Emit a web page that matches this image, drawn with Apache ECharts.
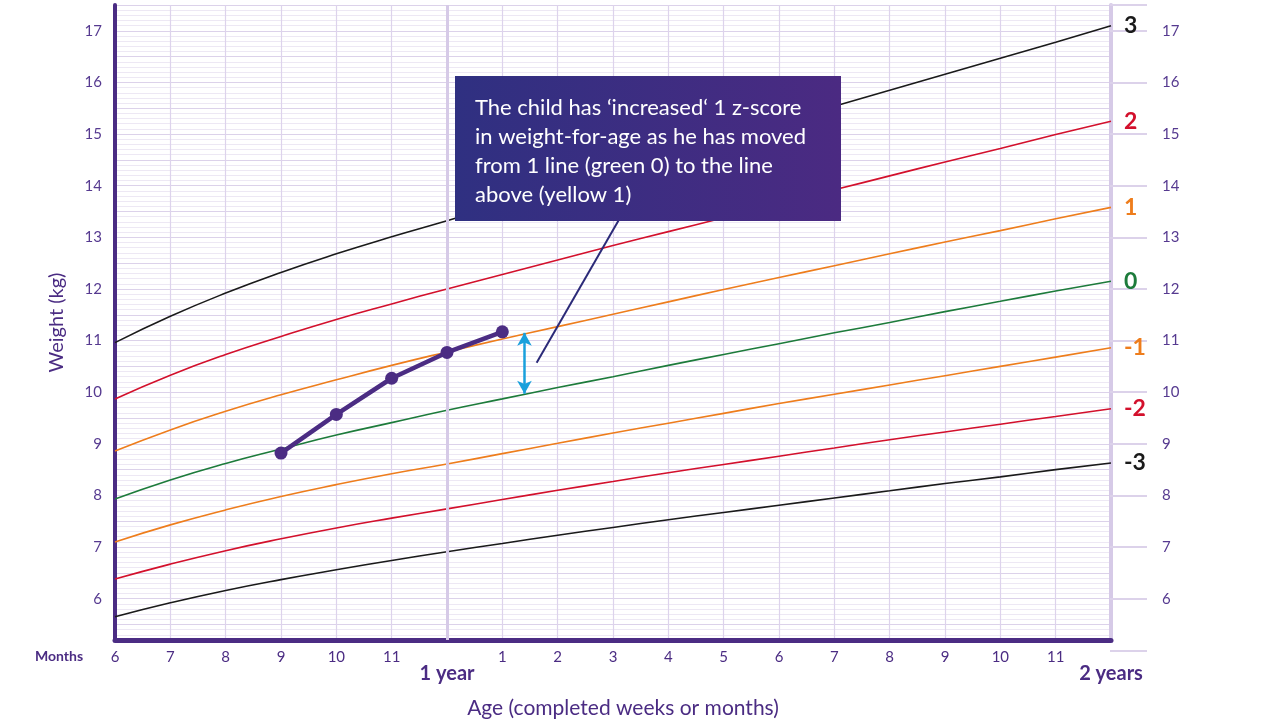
<!DOCTYPE html>
<html>
<head>
<meta charset="utf-8">
<script src="https://cdn.jsdelivr.net/npm/echarts@6/dist/echarts.min.js"></script>
<style>
  html, body { margin: 0; padding: 0; background: #fff; }
  #chart { width: 1280px; height: 720px; }
</style>
</head>
<body>
<div id="chart"></div>
<script>
// months of age, 6 to 24
var months = [6, 7, 8, 9, 10, 11, 12, 13, 14, 15, 16, 17, 18, 19, 20, 21, 22, 23, 24];
// weight-for-age z-score curves (kg)
var zNeg3 = [5.65, 5.92, 6.16, 6.37, 6.56, 6.74, 6.91, 7.07, 7.23, 7.38, 7.53, 7.67, 7.81, 7.95, 8.09, 8.23, 8.36, 8.50, 8.63];
var zNeg2 = [6.38, 6.67, 6.93, 7.16, 7.37, 7.56, 7.74, 7.92, 8.10, 8.27, 8.44, 8.60, 8.76, 8.92, 9.08, 9.23, 9.38, 9.53, 9.68];
var zNeg1 = [7.10, 7.43, 7.72, 7.98, 8.21, 8.42, 8.61, 8.81, 9.01, 9.21, 9.40, 9.59, 9.78, 9.96, 10.14, 10.32, 10.50, 10.68, 10.86];
var z0 = [7.93, 8.30, 8.62, 8.90, 9.17, 9.41, 9.65, 9.87, 10.09, 10.30, 10.52, 10.73, 10.94, 11.15, 11.35, 11.56, 11.76, 11.96, 12.15];
var zPos1 = [8.86, 9.27, 9.63, 9.95, 10.24, 10.52, 10.78, 11.03, 11.27, 11.51, 11.75, 11.99, 12.22, 12.45, 12.68, 12.91, 13.13, 13.36, 13.58];
var zPos2 = [9.87, 10.33, 10.73, 11.08, 11.41, 11.71, 12.00, 12.28, 12.56, 12.84, 13.11, 13.38, 13.65, 13.92, 14.19, 14.46, 14.72, 14.99, 15.25];
var zPos3 = [10.96, 11.47, 11.92, 12.32, 12.68, 13.01, 13.32, 13.64, 13.96, 14.28, 14.60, 14.92, 15.23, 15.54, 15.85, 16.16, 16.47, 16.78, 17.10];
// the child's measurements
var childMonths = [9, 10, 11, 12, 13];
var childWeights = [8.82, 9.57, 10.27, 10.77, 11.17];
// the double arrow showing one z-score step (month, top kg, bottom kg)
var arrowMonth = 13.4;
var arrowTop = 11.15;
var arrowBottom = 9.97;
// callout pointer (from near the arrow up to the box)
var pointerFrom = [13.62, 10.57];
var pointerTo = [15.3, 13.7];
var calloutText = "The child has \u2018increased\u2018 1 z-score\nin weight-for-age as he has moved\nfrom 1 line (green 0) to the line\nabove (yellow 1)";

var PURPLE = "#4b2c83";
var LAVENDER = "#ddd3ec";
var FONT = "Lato";

function pairs(xs, ys) {
	return xs.map(function(x, i) { return [x, ys[i]]; });
}
function isWhole(v) {
	return Math.abs(v - Math.round(v)) < 1e-6;
}

var chart = echarts.init(document.getElementById("chart"));

var curves = [
	{ name: "-3", data: zNeg3, color: "#1a1a1a" },
	{ name: "-2", data: zNeg2, color: "#d3102c" },
	{ name: "-1", data: zNeg1, color: "#ee7d1c" },
	{ name: "0", data: z0, color: "#1d7b3b" },
	{ name: "1", data: zPos1, color: "#ee7d1c" },
	{ name: "2", data: zPos2, color: "#d3102c" },
	{ name: "3", data: zPos3, color: "#1a1a1a" },
];

var series = [
	{
		// 1 year guide line
		name: "year",
		type: "line",
		data: [],
		z: 1,
		silent: true,
		markLine: {
			silent: true,
			symbol: "none",
			label: { show: false },
			lineStyle: { color: "#d6cae7", width: 3, type: "solid" },
			data: [{ xAxis: 12 }],
		},
	},
];

curves.forEach(function(c) {
	series.push({
		name: c.name,
		type: "line",
		data: pairs(months, c.data),
		smooth: true,
		symbol: "none",
		z: 3,
		lineStyle: { color: c.color, width: 1.6 },
		endLabel: {
			show: true,
			formatter: c.name,
			color: c.color,
			fontSize: 23,
			fontWeight: "bold",
			fontFamily: FONT,
			distance: 13,
		},
	});
});

// pointer line + double arrow
series.push({
	name: "notes",
	type: "line",
	data: [],
	z: 4,
	silent: true,
	markLine: {
		silent: true,
		animation: false,
		label: { show: false },
		data: [
			[
				{ coord: [arrowMonth, arrowTop], symbol: "arrow", symbolSize: [11, 13] },
				{ coord: [arrowMonth, arrowBottom], symbol: "arrow", symbolSize: [11, 13],
					lineStyle: { color: "#1aa0dc", width: 2.5, type: "solid" } },
			],
			[
				{ coord: pointerFrom, symbol: "none" },
				{ coord: pointerTo, symbol: "none",
					lineStyle: { color: "#2b2a78", width: 2, type: "solid" } },
			],
		],
	},
});

series.push({
	name: "child",
	type: "line",
	data: pairs(childMonths, childWeights),
	z: 5,
	symbol: "circle",
	symbolSize: 13,
	lineStyle: { color: PURPLE, width: 4.5 },
	itemStyle: { color: PURPLE },
});

var optionData = {
	animation: false,
	textStyle: { fontFamily: FONT },
	grid: [
		{ left: 115, right: 169, top: 5, bottom: 80, containLabel: false, outerBoundsMode: "none" },
		// holds only the right hand kg scale (ticks every kg)
		{ left: 1110, width: 1, top: 5, bottom: 69.7, containLabel: false, outerBoundsMode: "none" },
	],
	xAxis: [
		{
			type: "value",
			gridIndex: 0,
			min: 6,
			max: 24,
			interval: 1,
			name: "Age (completed weeks or months)",
			nameLocation: "middle",
			nameGap: 58,
			nameTextStyle: { color: PURPLE, fontSize: 21, fontFamily: FONT, padding: [0, 0, 0, 20] },
			axisLine: { show: true, onZero: false, lineStyle: { color: PURPLE, width: 5 } },
			axisTick: { show: false },
			axisLabel: {
				margin: 10,
				color: PURPLE,
				fontSize: 15,
				fontFamily: FONT,
				formatter: function(v) {
					if (v === 12) return "{y|1 year}";
					if (v === 24) return "{y|2 years}";
					return String(v > 12 ? v - 12 : v);
				},
				rich: {
					y: { fontSize: 20, fontWeight: "bold", color: PURPLE, fontFamily: FONT, padding: [14, 0, 0, 0] },
				},
			},
			splitLine: {
				show: true,
				lineStyle: {
					color: [LAVENDER, LAVENDER, LAVENDER, LAVENDER, LAVENDER, LAVENDER,
						"#d6cae7", LAVENDER, LAVENDER, LAVENDER, LAVENDER, LAVENDER],
					width: 1.2,
				},
			},
		},
		{ type: "value", gridIndex: 1, show: false, min: 0, max: 1 },
	],
	yAxis: [
		{
			type: "value",
			gridIndex: 0,
			min: 5.2,
			max: 17.5,
			interval: 0.1,
			name: "Weight (kg)",
			nameLocation: "middle",
			nameGap: 48,
			nameRotate: 90,
			nameTextStyle: { color: PURPLE, fontSize: 20, fontFamily: FONT },
			axisLine: { show: true, onZero: false, lineStyle: { color: PURPLE, width: 4 } },
			axisTick: { show: false },
			axisLabel: {
				margin: 13,
				color: "#563a90",
				fontSize: 15,
				fontFamily: FONT,
				formatter: function(v) {
					return isWhole(v) ? String(Math.round(v)) : "";
				},
			},
			splitLine: {
				show: true,
				lineStyle: {
					// lines every 0.1 kg, a bit darker on each half kg (5.5, 6.0 ...)
					color: ["#ede8f4", "#ede8f4", "#ede8f4", "#dcd2ea", "#ede8f4"],
					width: 1,
				},
			},
		},
		{
			// right border at 2 years
			type: "value",
			gridIndex: 0,
			position: "right",
			min: 5.2,
			max: 17.5,
			axisLine: { show: true, onZero: false, lineStyle: { color: "#d6cae7", width: 4 } },
			axisTick: { show: false },
			axisLabel: { show: false },
			splitLine: { show: false },
		},
		{
			type: "value",
			gridIndex: 1,
			position: "right",
			min: 5,
			max: 17.5,
			interval: 1,
			axisLine: { show: false },
			axisTick: { show: true, inside: false, length: 37, lineStyle: { color: "#dcd2ea", width: 2 } },
			axisLabel: {
				margin: 51,
				color: "#563a90",
				fontSize: 15,
				fontFamily: FONT,
				align: "left",
				formatter: function(v) {
					return v >= 6 && v <= 17 ? String(v) : "";
				},
			},
			splitLine: { show: false },
		},
	],
	graphic: [
		{
			type: "text",
			left: 35,
			top: 649,
			style: { text: "Months", fill: PURPLE, font: "bold 14px Lato" },
		},
		{
			type: "rect",
			left: 455,
			top: 76,
			z: 100,
			shape: { width: 386, height: 145 },
			style: {
				fill: new echarts.graphic.LinearGradient(0, 0, 1, 0, [
					{ offset: 0, color: "#2f3081" },
					{ offset: 1, color: "#4b2a82" },
				]),
			},
		},
		{
			type: "text",
			left: 475,
			top: 93,
			z: 101,
			style: {
				text: calloutText,
				fill: "#ffffff",
				font: "22px Lato",
				lineHeight: 29,
			},
		},
	],
	series: series,
};

chart.setOption(optionData);
</script>
</body>
</html>
